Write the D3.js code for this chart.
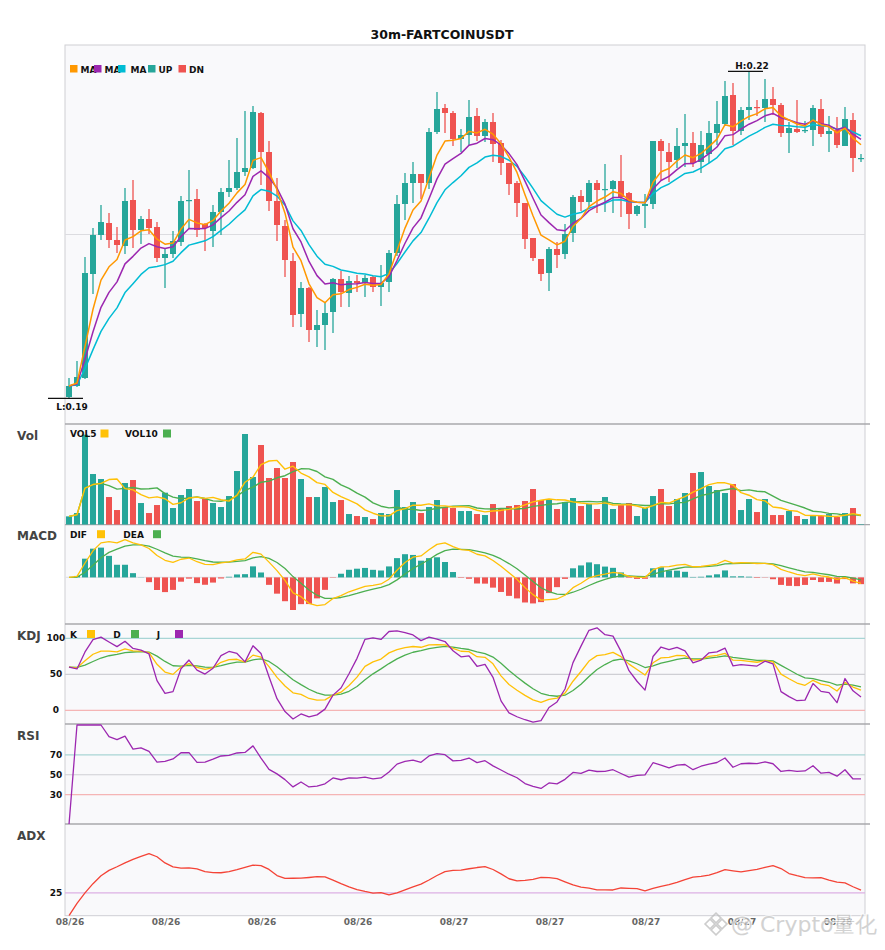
<!DOCTYPE html>
<html>
<head>
<meta charset="utf-8">
<script src="https://cdn.jsdelivr.net/npm/d3@7"></script>
<style>
  body { margin: 0; background: #fff; }
  text { font-family: "DejaVu Sans", sans-serif; }
</style>
</head>
<body>
<script>
// 30m candles
var opens = [
  .1901,.1912,.1920,.2024,.2063,.2075,.2058,.2052,.2098,.2068,
  .2079,.2071,.2040,.2044,.2056,.2097,.2099,.2074,.2067,.2086,
  .2106,.2110,.2126,.2130,.2185,.2146,.2097,.2072,.2037,.1984,
  .2010,.1968,.1973,.1986,.2019,.2005,.2017,.2015,.2021,.2011,
  .2016,.2045,.2094,.2115,.2124,.2115,.2166,.2190,.2185,.2159,
  .2163,.2182,.2162,.2176,.2155,.2135,.2115,.2095,.2060,.2039,
  .2025,.2049,.2044,.2065,.2102,.2096,.2115,.2108,.2109,.2117,
  .2105,.2084,.2092,.2094,.2157,.2146,.2138,.2152,.2155,.2136,
  .2144,.2165,.2174,.2203,.2167,.2188,.2191,.2190,.2199,.2193,
  .2165,.2169,.2167,.2168,.2189,.2164,.2168,.2152,.2178,.2139
];
var highs = [
  .1920,.1937,.2041,.2070,.2093,.2085,.2071,.2110,.2118,.2082,
  .2089,.2076,.2049,.2067,.2102,.2128,.2109,.2075,.2093,.2110,
  .2138,.2160,.2187,.2192,.2186,.2157,.2120,.2078,.2045,.2016,
  .2011,.1988,.1995,.2020,.2027,.2022,.2023,.2023,.2022,.2033,
  .2048,.2103,.2125,.2136,.2124,.2170,.2206,.2194,.2187,.2169,
  .2198,.2190,.2179,.2185,.2158,.2135,.2117,.2095,.2060,.2039,
  .2051,.2056,.2074,.2103,.2108,.2118,.2118,.2134,.2118,.2143,
  .2106,.2093,.2104,.2157,.2159,.2155,.2170,.2184,.2166,.2167,
  .2177,.2197,.2217,.2215,.2191,.2226,.2198,.2219,.2211,.2195,
  .2176,.2198,.2177,.2193,.2199,.2182,.2181,.2191,.2185,.2144
];
var lows = [
  .1900,.1911,.1919,.2004,.2058,.2050,.2045,.2044,.2050,.2054,
  .2064,.2036,.2010,.2040,.2052,.2069,.2061,.2047,.2051,.2063,
  .2101,.2108,.2122,.2129,.2113,.2087,.2057,.2021,.1971,.1971,
  .1956,.1951,.1948,.1965,.1991,.1991,.2006,.2001,.2006,.1992,
  .2006,.2042,.2078,.2095,.2099,.2109,.2164,.2165,.2152,.2146,
  .2153,.2157,.2156,.2136,.2123,.2103,.2081,.2049,.2037,.2017,
  .2007,.2030,.2039,.2056,.2087,.2091,.2085,.2086,.2085,.2081,
  .2069,.2082,.2070,.2089,.2118,.2116,.2130,.2131,.2131,.2125,
  .2135,.2153,.2172,.2153,.2163,.2178,.2182,.2176,.2183,.2161,
  .2145,.2165,.2165,.2152,.2161,.2146,.2150,.2152,.2126,.2136
];
var closes = [
  .1912,.1921,.2025,.2063,.2076,.2058,.2053,.2097,.2068,.2079,
  .2070,.2040,.2044,.2057,.2097,.2098,.2068,.2070,.2086,.2106,
  .2110,.2126,.2130,.2186,.2146,.2097,.2073,.2038,.1983,.2010,
  .1968,.1973,.1985,.2019,.2006,.2017,.2015,.2020,.2011,.2015,
  .2045,.2094,.2115,.2124,.2115,.2166,.2189,.2185,.2159,.2163,
  .2181,.2162,.2176,.2154,.2135,.2114,.2095,.2059,.2040,.2024,
  .2049,.2043,.2064,.2101,.2096,.2115,.2108,.2109,.2117,.2101,
  .2084,.2092,.2094,.2157,.2147,.2136,.2152,.2155,.2135,.2153,
  .2165,.2174,.2202,.2167,.2188,.2191,.2190,.2199,.2193,.2165,
  .2170,.2166,.2168,.2190,.2164,.2167,.2153,.2179,.2140,.2140
];
// volume, thousands
var volumes = [
  25,35,270,152,137,83,44,125,134,65,
  35,59,96,50,89,107,71,78,65,53,
  86,161,272,143,239,140,170,140,188,137,
  83,83,113,68,74,32,26,23,17,35,
  32,104,53,68,35,53,74,53,50,41,
  41,32,29,62,50,56,59,71,107,74,
  74,47,68,80,56,62,47,83,47,59,
  65,26,50,86,107,56,77,95,155,158,
  116,104,95,122,44,77,38,77,29,29,
  41,26,17,26,26,32,23,35,50,2
];
var tickLabels = ["08/26", "08/26", "08/26", "08/26", "08/27", "08/27", "08/27", "08/27", "08/28"];
var tickStep = 12;

var upColor = "#26a69a", dnColor = "#ef5350";

var svgWidth = 885, svgHeight = 950;
var left = 65, right = 865;

var panels = {
  price: { top: 45, bottom: 424 },
  vol: { top: 424, bottom: 524.7, label: "Vol" },
  macd: { top: 524.7, bottom: 624, label: "MACD" },
  kdj: { top: 624, bottom: 724, label: "KDJ" },
  rsi: { top: 724, bottom: 824, label: "RSI" },
  adx: { top: 824, bottom: 915.7, label: "ADX" }
};

var svg = d3.select("body").append("svg")
  .attr("width", svgWidth)
  .attr("height", svgHeight);

var n = closes.length;
var idx = d3.range(n);

// ---- indicators ----
function ewm(arr, alpha) {
  var out = [], prev;
  arr.forEach(function(v, i) {
    prev = i === 0 ? v : prev + alpha * (v - prev);
    out.push(prev);
  });
  return out;
}
function ema(arr, span) { return ewm(arr, 2 / (span + 1)); }
function sma(arr, len) {
  return arr.map(function(v, i) { return d3.mean(arr.slice(Math.max(0, i - len + 1), i + 1)); });
}

var ma5 = ema(closes, 5), ma8 = ema(closes, 8), ma13 = ema(closes, 13);
var vol5 = sma(volumes, 5), vol10 = sma(volumes, 10);

// fast MACD (6, 13, 5)
var eFast = ema(closes, 6), eSlow = ema(closes, 13);
var dif = idx.map(function(i) { return eFast[i] - eSlow[i]; });
var dea = ema(dif, 5);
var hist = idx.map(function(i) { return 2 * (dif[i] - dea[i]); });

var rsv = idx.map(function(i) {
  var s = Math.max(0, i - 8);
  var hh = d3.max(highs.slice(s, i + 1)), ll = d3.min(lows.slice(s, i + 1));
  return hh === ll ? 50 : (closes[i] - ll) / (hh - ll) * 100;
});
var kLine = ewm(rsv, 1 / 3);
var dLine = ewm(kLine, 1 / 3);
var jLine = idx.map(function(i) { return 3 * kLine[i] - 2 * dLine[i]; });

var gains = idx.map(function(i) { return i === 0 ? 0 : Math.max(0, closes[i] - closes[i - 1]); });
var losses = idx.map(function(i) { return i === 0 ? 0 : Math.max(0, closes[i - 1] - closes[i]); });
var avgG = ewm(gains, 1 / 14), avgL = ewm(losses, 1 / 14);
var rsi = idx.map(function(i) {
  if (avgL[i] === 0) return avgG[i] === 0 ? 0 : 100;
  return 100 - 100 / (1 + avgG[i] / avgL[i]);
});

var tr = idx.map(function(i) {
  if (i === 0) return highs[0] - lows[0];
  var pc = closes[i - 1];
  return Math.max(highs[i] - lows[i], Math.abs(highs[i] - pc), Math.abs(lows[i] - pc));
});
var pdm = idx.map(function(i) {
  if (i === 0) return 0;
  var up = highs[i] - highs[i - 1], dn = lows[i - 1] - lows[i];
  return up > dn && up > 0 ? up : 0;
});
var mdm = idx.map(function(i) {
  if (i === 0) return 0;
  var up = highs[i] - highs[i - 1], dn = lows[i - 1] - lows[i];
  return dn > up && dn > 0 ? dn : 0;
});
var aAdx = 2 / 15;
var atr = ewm(tr, aAdx), spdm = ewm(pdm, aAdx), smdm = ewm(mdm, aAdx);
var dx = idx.map(function(i) {
  var p = spdm[i] / atr[i] * 100, m = smdm[i] / atr[i] * 100;
  return p + m === 0 ? 0 : Math.abs(p - m) / (p + m) * 100;
});
var adx = ewm(dx, aAdx);

// ---- scales ----
var x = d3.scaleBand().domain(idx).range([left, right]).paddingInner(0.25).paddingOuter(0.125);
var cx = function(i) { return x(i) + x.bandwidth() / 2; };

var yPrice = d3.scaleLinear()
  .domain([d3.min(lows), d3.max(highs)])
  .range([panels.price.bottom - 26, panels.price.top + 27]);
var yVol = d3.scaleLinear().domain([0, d3.max(volumes)]).range([panels.vol.bottom, panels.vol.top + 10]);
var yMacd = d3.scaleLinear()
  .domain([d3.min(dif.concat(dea, hist)), d3.max(dif.concat(dea, hist))])
  .range([panels.macd.bottom - 14, panels.macd.top + 15]);
var yKdj = d3.scaleLinear().domain([0, 100]).range([710.3, 638.3]);
var yRsi = d3.scaleLinear().domain([0, 100]).range([824.5, 725]);
var yAdx = d3.scaleLinear().domain([0, 100]).range([panels.adx.bottom, panels.adx.top]);

// ---- frame ----
svg.append("rect")
  .attr("x", left).attr("y", panels.price.top)
  .attr("width", right - left).attr("height", panels.adx.bottom - panels.price.top)
  .attr("fill", "#f9f9fb").attr("stroke", "#cfcfd4");

Object.keys(panels).forEach(function(key) {
  var p = panels[key];
  svg.append("clipPath").attr("id", "clip-" + key)
    .append("rect").attr("x", left).attr("y", p.top)
    .attr("width", right - left).attr("height", p.bottom - p.top);
  if (key !== "price") {
    svg.append("line")
      .attr("x1", left).attr("x2", right + 5)
      .attr("y1", p.top).attr("y2", p.top)
      .attr("stroke", "#a8a8ad").attr("stroke-width", 1.3);
    svg.append("text")
      .attr("x", 17).attr("y", p.top + 15.5)
      .attr("font-size", 12).attr("font-weight", "bold").attr("fill", "#444")
      .text(p.label);
  }
});

svg.append("text")
  .attr("x", 442).attr("y", 38.5)
  .attr("text-anchor", "middle")
  .attr("font-size", 12.5).attr("font-weight", "bold").attr("fill", "#111")
  .text("30m-FARTCOINUSDT");

// mid gridline of price panel
svg.append("line")
  .attr("x1", left).attr("x2", right)
  .attr("y1", (panels.price.top + panels.price.bottom) / 2)
  .attr("y2", (panels.price.top + panels.price.bottom) / 2)
  .attr("stroke", "#dcdce0");

function hLine(y, color) {
  svg.append("line").attr("x1", left).attr("x2", right)
    .attr("y1", y).attr("y2", y).attr("stroke", color).attr("stroke-width", 1.2);
}
function yLabel(y, t) {
  svg.append("text").attr("x", 56).attr("y", y).attr("dy", "0.35em")
    .attr("text-anchor", "middle").attr("font-size", 9).attr("font-weight", "bold")
    .attr("fill", "#111").text(t);
}

// reference lines
hLine(yMacd(0), "#e2e2e6");
[[100, "#a8d5d5"], [50, "#cfcfd4"], [0, "#f5b5b5"]].forEach(function(d) {
  hLine(yKdj(d[0]), d[1]); yLabel(yKdj(d[0]), d[0]);
});
[[70, "#a8d5d5"], [50, "#cfcfd4"], [30, "#f5b5b5"]].forEach(function(d) {
  hLine(yRsi(d[0]), d[1]); yLabel(yRsi(d[0]), d[0]);
});
hLine(yAdx(25), "#dcb0e4"); yLabel(yAdx(25), 25);

// ---- candles ----
var colorOf = function(i) { return closes[i] >= opens[i] ? upColor : dnColor; };
var priceG = svg.append("g").attr("clip-path", "url(#clip-price)");

priceG.selectAll("line.wick")
  .data(idx)
  .enter()
  .append("line")
  .attr("class", "wick")
  .attr("x1", cx).attr("x2", cx)
  .attr("y1", function(i) { return yPrice(highs[i]); })
  .attr("y2", function(i) { return yPrice(lows[i]); })
  .attr("stroke", colorOf).attr("stroke-width", 1.3);

priceG.selectAll("rect.body")
  .data(idx)
  .enter()
  .append("rect")
  .attr("class", "body")
  .attr("x", function(i) { return x(i); })
  .attr("width", x.bandwidth())
  .attr("y", function(i) { return yPrice(Math.max(opens[i], closes[i])); })
  .attr("height", function(i) { return Math.max(1.2, Math.abs(yPrice(opens[i]) - yPrice(closes[i]))); })
  .attr("fill", colorOf);

function drawLine(g, values, yScale, color, width) {
  g.append("path")
    .datum(values)
    .attr("fill", "none")
    .attr("stroke", color)
    .attr("stroke-width", width || 1.4)
    .attr("stroke-linejoin", "round")
    .attr("d", d3.line().x(function(d, i) { return cx(i); }).y(function(d) { return yScale(d); }));
}

drawLine(priceG, ma13, yPrice, "#00bcd4", 1.5);
drawLine(priceG, ma8, yPrice, "#9c27b0", 1.5);
drawLine(priceG, ma5, yPrice, "#ff9800", 1.5);

// high / low markers
var hiIdx = d3.maxIndex(highs), loIdx = d3.minIndex(lows);
[[hiIdx, highs[hiIdx], "H", -3.5], [loIdx, lows[loIdx], "L", 12]].forEach(function(m) {
  var px = cx(m[0]), py = yPrice(m[1]);
  svg.append("line").attr("x1", px - 21).attr("x2", px + 14)
    .attr("y1", py - (m[2] === "H" ? 0.7 : -0.3)).attr("y2", py - (m[2] === "H" ? 0.7 : -0.3))
    .attr("stroke", "#111").attr("stroke-width", 1.3);
  svg.append("text").attr("x", px + 3).attr("y", py + m[3])
    .attr("text-anchor", "middle").attr("font-size", 9).attr("font-weight", "bold")
    .attr("fill", "#111").text(m[2] + ":" + m[1].toFixed(2));
});

// ---- volume ----
var volG = svg.append("g").attr("clip-path", "url(#clip-vol)");
volG.selectAll("rect")
  .data(idx)
  .enter()
  .append("rect")
  .attr("x", function(i) { return x(i); })
  .attr("width", x.bandwidth())
  .attr("y", function(i) { return yVol(volumes[i]); })
  .attr("height", function(i) { return yVol(0) - yVol(volumes[i]); })
  .attr("fill", colorOf);
drawLine(volG, vol10, yVol, "#4caf50", 1.4);
drawLine(volG, vol5, yVol, "#ffc107", 1.4);

// ---- MACD ----
var macdG = svg.append("g").attr("clip-path", "url(#clip-macd)");
macdG.selectAll("rect")
  .data(idx)
  .enter()
  .append("rect")
  .attr("x", function(i) { return x(i); })
  .attr("width", x.bandwidth())
  .attr("y", function(i) { return Math.min(yMacd(0), yMacd(hist[i])); })
  .attr("height", function(i) { return Math.abs(yMacd(hist[i]) - yMacd(0)); })
  .attr("fill", function(i) { return hist[i] >= 0 ? upColor : dnColor; });
drawLine(macdG, dea, yMacd, "#4caf50", 1.3);
drawLine(macdG, dif, yMacd, "#ffc107", 1.3);

// ---- KDJ / RSI / ADX ----
var kdjG = svg.append("g").attr("clip-path", "url(#clip-kdj)");
drawLine(kdjG, dLine, yKdj, "#4caf50", 1.3);
drawLine(kdjG, kLine, yKdj, "#ffc107", 1.3);
drawLine(kdjG, jLine, yKdj, "#9c27b0", 1.3);

var rsiG = svg.append("g").attr("clip-path", "url(#clip-rsi)");
drawLine(rsiG, rsi, yRsi, "#9c27b0", 1.3);

var adxG = svg.append("g").attr("clip-path", "url(#clip-adx)");
drawLine(adxG, adx, yAdx, "#f44336", 1.3);

// ---- legends ----
function legend(items, baseline, size) {
  items.forEach(function(it) {
    svg.append("text").attr("x", it.tx).attr("y", baseline)
      .attr("font-size", 9).attr("font-weight", "bold").attr("fill", "#111").text(it.t);
  });
  items.forEach(function(it) {
    if (it.sx == null) return;
    svg.append("rect").attr("x", it.sx).attr("y", baseline - 7.5)
      .attr("width", size).attr("height", size).attr("fill", it.c);
  });
}
legend([
  { t: "MA", c: "#ff9800", tx: 80.5 }, { t: "MA", c: "#9c27b0", tx: 104.5 },
  { t: "MA", c: "#00bcd4", tx: 130.5 }, { t: "UP", c: upColor, tx: 158.5 },
  { t: "DN", c: dnColor, tx: 189 }
].map(function(d, k) { d.sx = [70, 94, 118, 148, 178.5][k]; return d; }), 72.5, 7.5);
legend([{ t: "VOL5", c: "#ffc107", tx: 70, sx: 100.5 }, { t: "VOL10", c: "#4caf50", tx: 125, sx: 163 }],
  panels.vol.top + 13, 8);
legend([{ t: "DIF", c: "#ffc107", tx: 70, sx: 97 }, { t: "DEA", c: "#4caf50", tx: 123.3, sx: 153 }],
  panels.macd.top + 13, 8);
legend([{ t: "K", c: "#ffc107", tx: 70, sx: 87 }, { t: "D", c: "#4caf50", tx: 113.3, sx: 131 },
  { t: "J", c: "#9c27b0", tx: 156.7, sx: 175 }], panels.kdj.top + 13.5, 8);

// ---- x axis ----
tickLabels.forEach(function(t, k) {
  svg.append("text")
    .attr("x", cx(k * tickStep) + 1).attr("y", 925)
    .attr("text-anchor", "middle").attr("font-size", 9).attr("font-weight", "bold")
    .attr("fill", "#666").text(t);
});

// ---- watermark ----
var wm = svg.append("g").attr("opacity", 0.75);
[[716, 918], [710, 924], [722, 924], [716, 930]].forEach(function(p) {
  wm.append("rect").attr("x", p[0] - 3.5).attr("y", p[1] - 3.5).attr("width", 7).attr("height", 7)
    .attr("transform", "rotate(45," + p[0] + "," + p[1] + ")")
    .attr("fill", "none").attr("stroke", "#bdbdbd").attr("stroke-width", 1.6);
});
wm.append("text")
  .attr("x", 731).attr("y", 932)
  .attr("font-family", "'Noto Sans CJK SC', 'Noto Sans', sans-serif")
  .attr("font-size", 22).attr("fill", "#c4c4c4")
  .attr("stroke", "#fff").attr("stroke-width", 2).attr("paint-order", "stroke")
  .text("@ Crypto量化");
</script>
</body>
</html>
